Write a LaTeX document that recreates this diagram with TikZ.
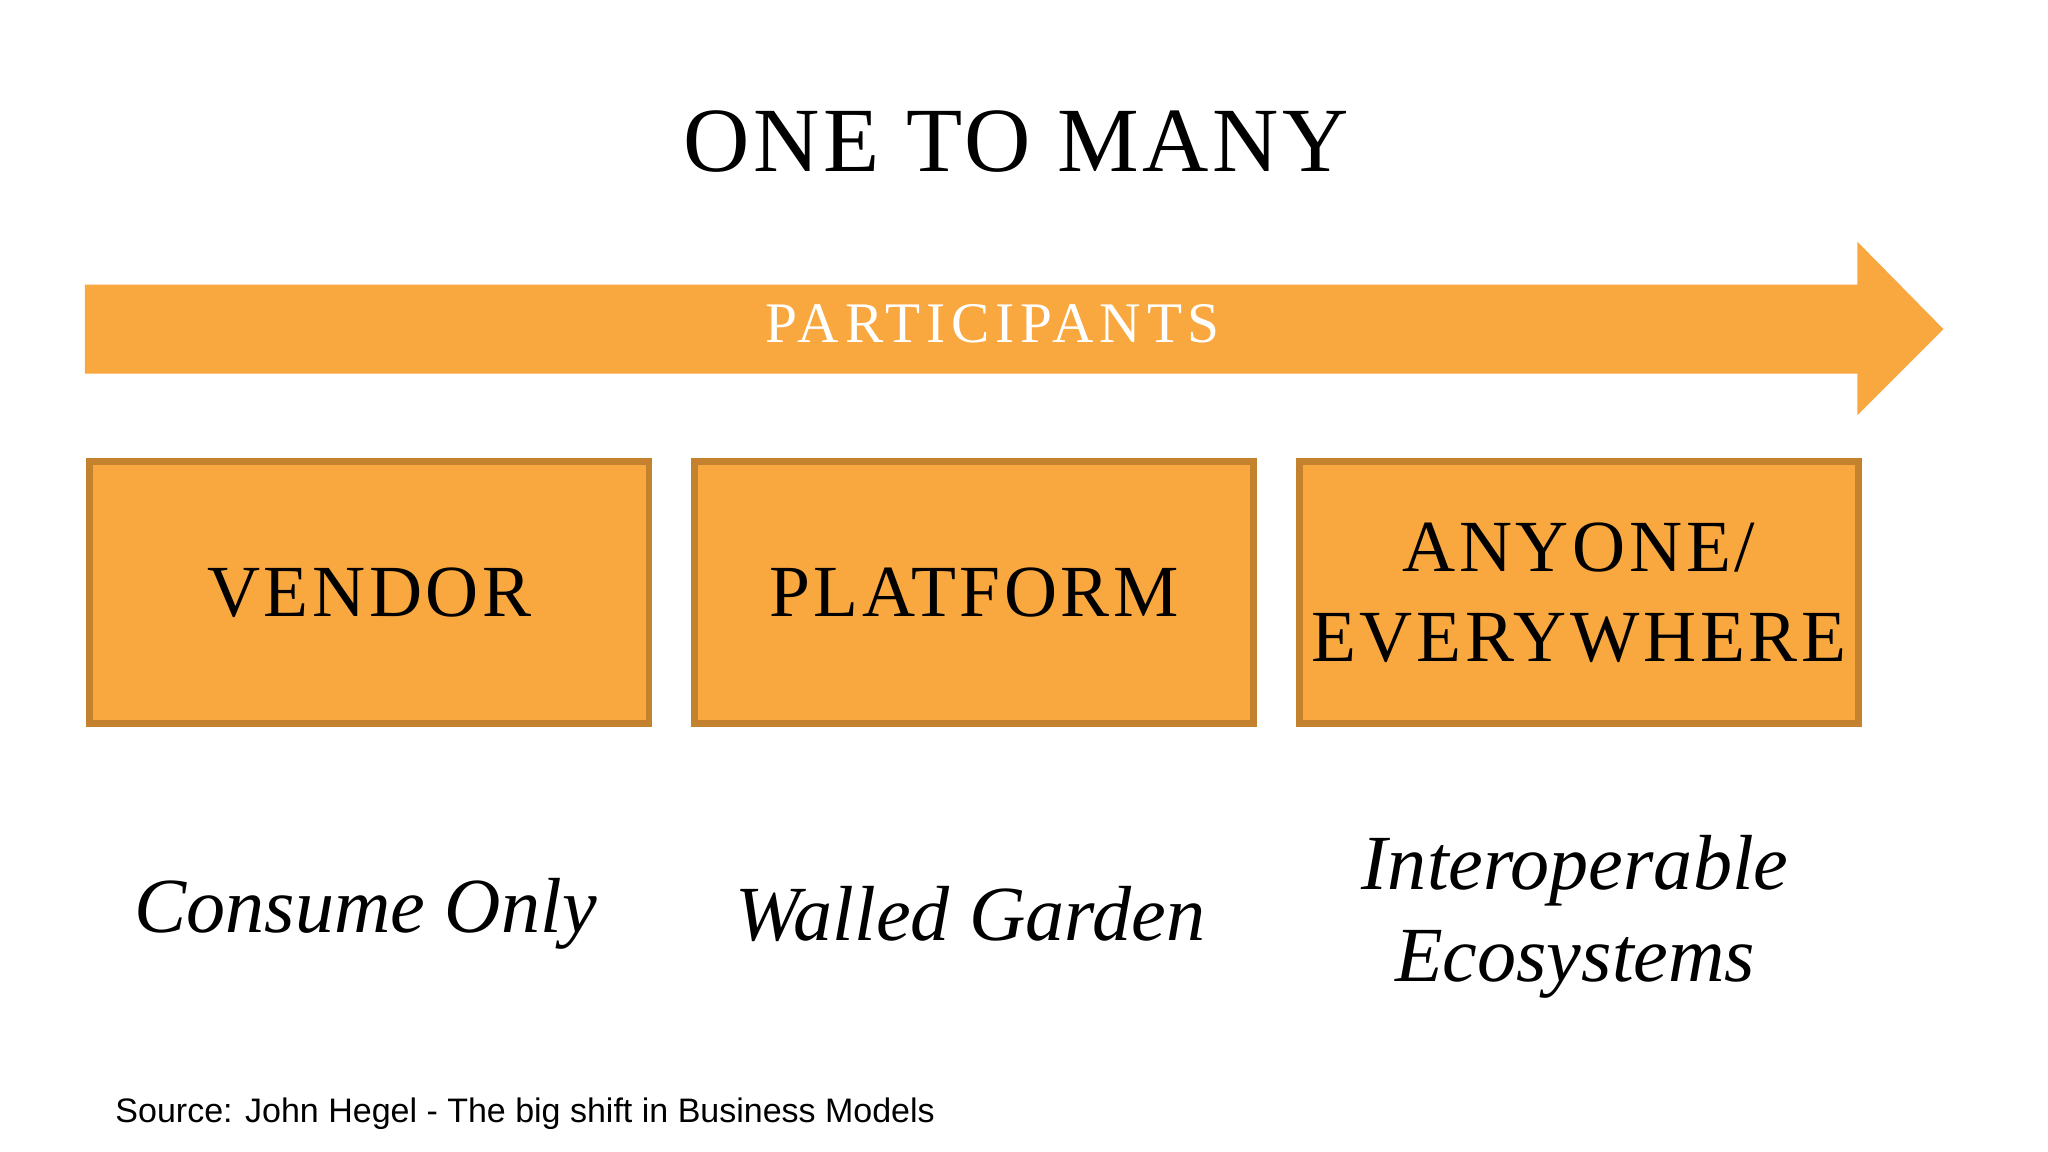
\documentclass[tikz,border=0pt]{standalone}
\usepackage{fontspec}
\setmainfont{Liberation Serif}
\setsansfont{Liberation Sans}
\definecolor{org}{HTML}{F9A840}
\definecolor{orgdark}{HTML}{C4822E}
\begin{document}
\begin{tikzpicture}[x=0.01cm,y=-0.01cm,
  box/.style={draw=orgdark,line width=1.5pt,fill=org,minimum width=4.28cm,minimum height=2.0cm,inner sep=0pt,anchor=north west,align=center,font=\fontsize{16}{19.5}\selectfont\addfontfeature{LetterSpace=5}},
  lab/.style={align=center,font=\fontsize{17}{20}\selectfont\itshape}]
\useasboundingbox[fill=white] (0,0) rectangle (1568,882);
\node (title) at (778,108) {\fontsize{20}{24}\selectfont\addfontfeature{LetterSpace=4}ONE TO MANY};
\fill[org] (65,218) -- (1422,218) -- (1422,185) -- (1488,252) -- (1422,318) -- (1422,286) -- (65,286) -- cycle;
\node[text=white] (part) at (760,248) {\fontsize{12.5}{15}\selectfont\addfontfeature{LetterSpace=10}PARTICIPANTS};
\node[box] (vendor) at (66,351) {VENDOR};
\node[box] (platform) at (529,351) {PLATFORM};
\node[box] (anyone) at (992,351) {ANYONE/\\EVERYWHERE};
\node[lab] (l1) at (280,700) {Consume Only};
\node[lab] (l2) at (743,700) {Walled Garden};
\node[lab] (l3) at (1206,702) {Interoperable\\Ecosystems};
\node[anchor=west,font=\sffamily\fontsize{7.4}{9}\selectfont] (src) at (76,853) {Source: John Hegel - The big shift in Business Models};
\end{tikzpicture}
\end{document}
